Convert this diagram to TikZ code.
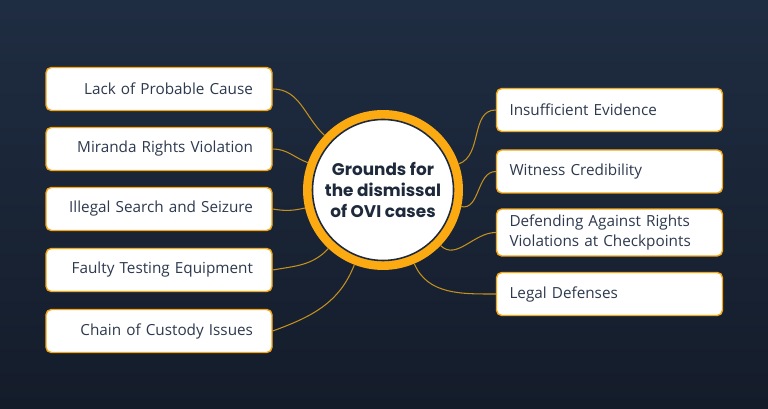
\documentclass[tikz,border=0pt]{standalone}
\usepackage{fontspec}
\setmainfont{Open Sans}
\newfontfamily\hubfont{Poppins}
\usepackage{tikz}
\usepackage{xcolor}

\definecolor{bgtop}{RGB}{31,45,66}
\definecolor{bgbot}{RGB}{20,28,42}
\definecolor{ringorange}{RGB}{252,170,18}
\definecolor{boxorange}{RGB}{245,166,20}
\definecolor{linkgold}{RGB}{196,144,30}
\definecolor{inktext}{RGB}{45,57,78}
\definecolor{hubtext}{RGB}{30,42,60}

\begin{document}
\begin{tikzpicture}[
    block/.style={
        rectangle, draw=boxorange, line width=0.8pt, fill=white,
        rounded corners=3pt, minimum width=4.52cm, minimum height=0.86cm,
        text=inktext, font=\fontsize{8.7}{11.3}\selectfont
    },
    leftblock/.style={block, align=right, inner xsep=0.38cm, text width=3.76cm},
    rightblock/.style={block, align=left, inner xsep=0.26cm, text width=4.0cm},
    hub/.style={
        circle, draw=ringorange, line width=5.1pt, fill=white,
        minimum size=3.02cm, inner sep=0pt, align=center, text=hubtext,
        font=\hubfont\bfseries\fontsize{9.6}{11.7}\selectfont
    },
    link/.style={draw=linkgold, line width=0.6pt}
]

% background
\shade[top color=bgtop, bottom color=bgbot] (0,0) rectangle (15.36,8.18);

% centre
\node[hub] (hub) at (7.66, 4.38) {Grounds for\\the dismissal\\of OVI cases};
\draw[draw=hubtext, line width=0.9pt] (hub.center) circle (1.41);

% left column
\node[leftblock] (cause)    at (3.18, 6.40) {Lack of Probable Cause};
\node[leftblock] (miranda)  at (3.18, 5.20) {Miranda Rights Violation};
\node[leftblock] (search)   at (3.18, 4.00) {Illegal Search and Seizure};
\node[leftblock] (testing)  at (3.18, 2.78) {Faulty Testing Equipment};
\node[leftblock] (custody)  at (3.18, 1.56) {Chain of Custody Issues};

% right column
\node[rightblock] (evidence)    at (12.19, 5.98) {Insufficient Evidence};
\node[rightblock] (witness)     at (12.19, 4.75) {Witness Credibility};
\node[rightblock] (checkpoints) at (12.19, 3.53) {Defending Against Rights\\Violations at Checkpoints};
\node[rightblock] (defenses)    at (12.19, 2.30) {Legal Defenses};

% links
\draw[link] (cause.east)   to[out=0, in=137] (hub.137);
\draw[link] (miranda.east) to[out=0, in=160] (hub.160);
\draw[link] (search.east)  to[out=-10, in=193] (hub.193);
\draw[link] (testing.east) to[out=10, in=227] (hub.227);
\draw[link] (custody.east) to[out=20, in=249] (hub.249);

\draw[link] (evidence.west)    to[out=180, in=19]  (hub.19);
\draw[link] (witness.west)     to[out=180, in=-12] (hub.-12);
\draw[link] (checkpoints.west) to[out=180, in=-44] (hub.-44);
\draw[link] (defenses.west)    to[out=180, in=-67] (hub.-67);

\end{tikzpicture}
\end{document}
